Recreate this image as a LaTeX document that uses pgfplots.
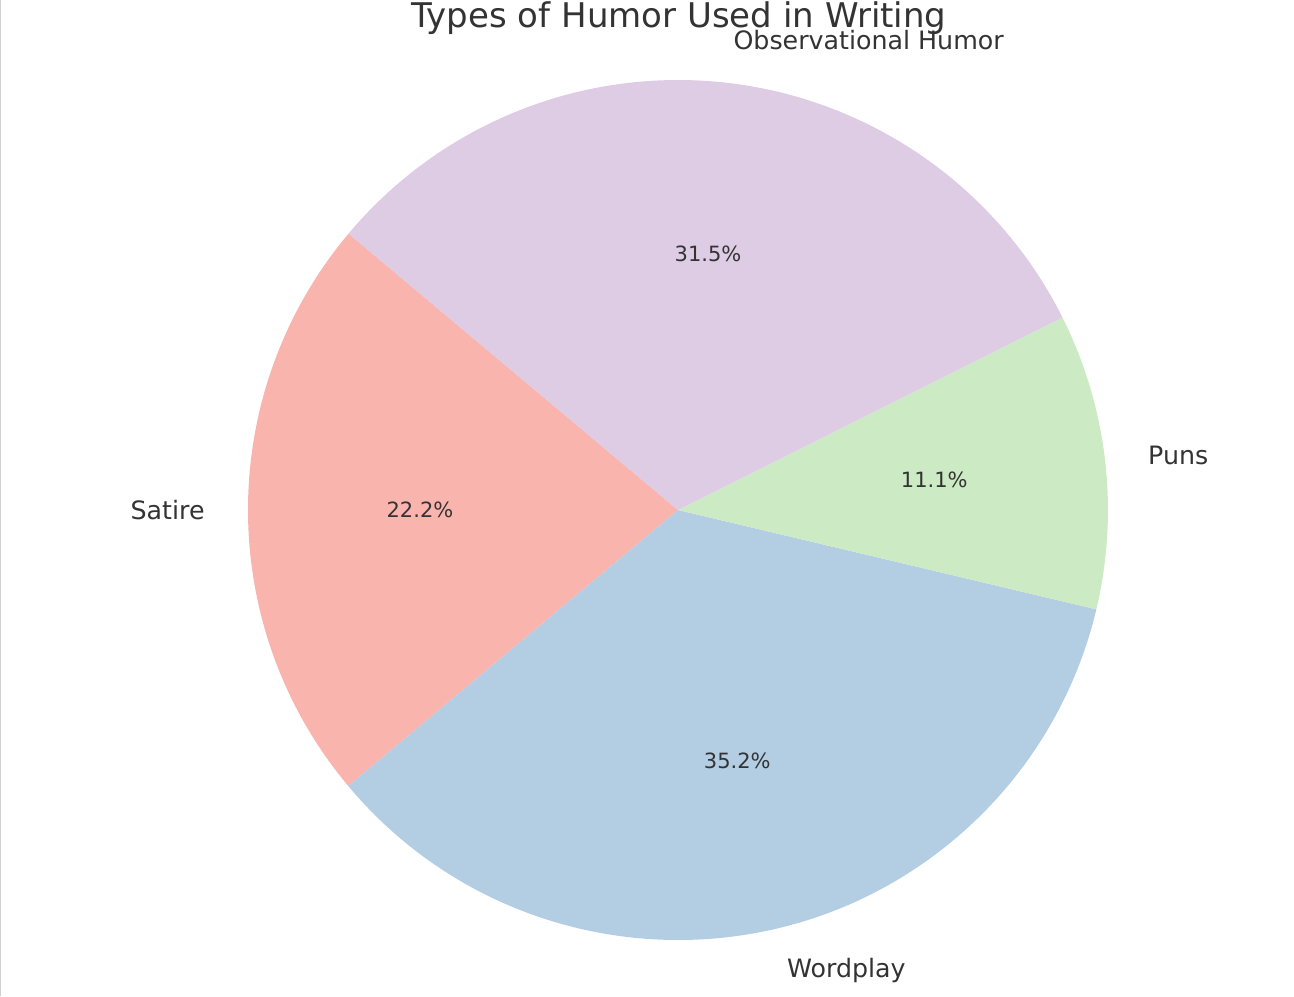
\documentclass[border=0pt]{standalone}
\usepackage{pgfplots}
\pgfplotsset{compat=1.18}
\usepackage{fontspec}
\setmainfont{DejaVu Sans}
\definecolor{cSat}{HTML}{F9B4AE}
\definecolor{cWord}{HTML}{B3CDE3}
\definecolor{cPun}{HTML}{CCEBC5}
\definecolor{cObs}{HTML}{DECBE4}
\definecolor{txt}{HTML}{333333}
% data (percent shares), in drawing order from start angle 140
\def\vSat{22.2}
\def\vWord{35.2}
\def\vPun{11.1}
\def\vObs{31.5}
\pgfmathsetmacro{\aA}{140}
\pgfmathsetmacro{\aB}{\aA+3.6*\vSat}
\pgfmathsetmacro{\aC}{\aB+3.6*\vWord}
\pgfmathsetmacro{\aD}{\aC+3.6*\vPun}
\pgfmathsetmacro{\aE}{\aD+3.6*\vObs}
\newcommand{\slice}[6]{% start, end, color, label, pct, anchor
  \fill[#3] (axis cs:0,0) -- (axis cs:{cos(#1)},{sin(#1)}) arc[start angle=#1, end angle=#2, radius=215pt] -- cycle;
  \node[anchor=#6, text=txt, font=\fontsize{12.65}{15}\selectfont, inner sep=0pt] at (axis cs:{1.1*cos((#1+#2)/2)},{1.1*sin((#1+#2)/2)}) {#4};
  \node[text=txt, font=\fontsize{10.5}{13}\selectfont, inner sep=0pt] at (axis cs:{0.6*cos((#1+#2)/2)},{0.6*sin((#1+#2)/2)}) {#5};
}
\begin{document}
\begin{tikzpicture}
\begin{axis}[
  x=215pt, y=215pt,
  xmin=-1.5767, xmax=1.4326,
  ymin=-1.13023, ymax=1.18605,
  hide axis, clip=false,
]
\slice{\aA}{\aB}{cSat}{Satire}{22.2\%}{east}
\slice{\aB}{\aC}{cWord}{Wordplay}{35.2\%}{west}
\slice{\aC}{\aD}{cPun}{Puns}{11.1\%}{west}
\slice{\aD}{\aE}{cObs}{Observational Humor}{31.5\%}{west}
\node[anchor=base, text=txt, font=\fontsize{17}{20}\selectfont, inner sep=0pt] at (axis cs:0.002,1.121) {Types of Humor Used in Writing};
\coordinate (ll) at (axis cs:-1.5767,-1.13023);
\coordinate (ur) at (axis cs:1.4326,1.18605);
\draw[line width=0.5pt, color=black!18] (axis cs:-1.5755,-1.13023) -- (axis cs:-1.5755,1.18605);
\end{axis}
\pgfresetboundingbox
\path (ll) rectangle (ur);
\end{tikzpicture}
\end{document}
